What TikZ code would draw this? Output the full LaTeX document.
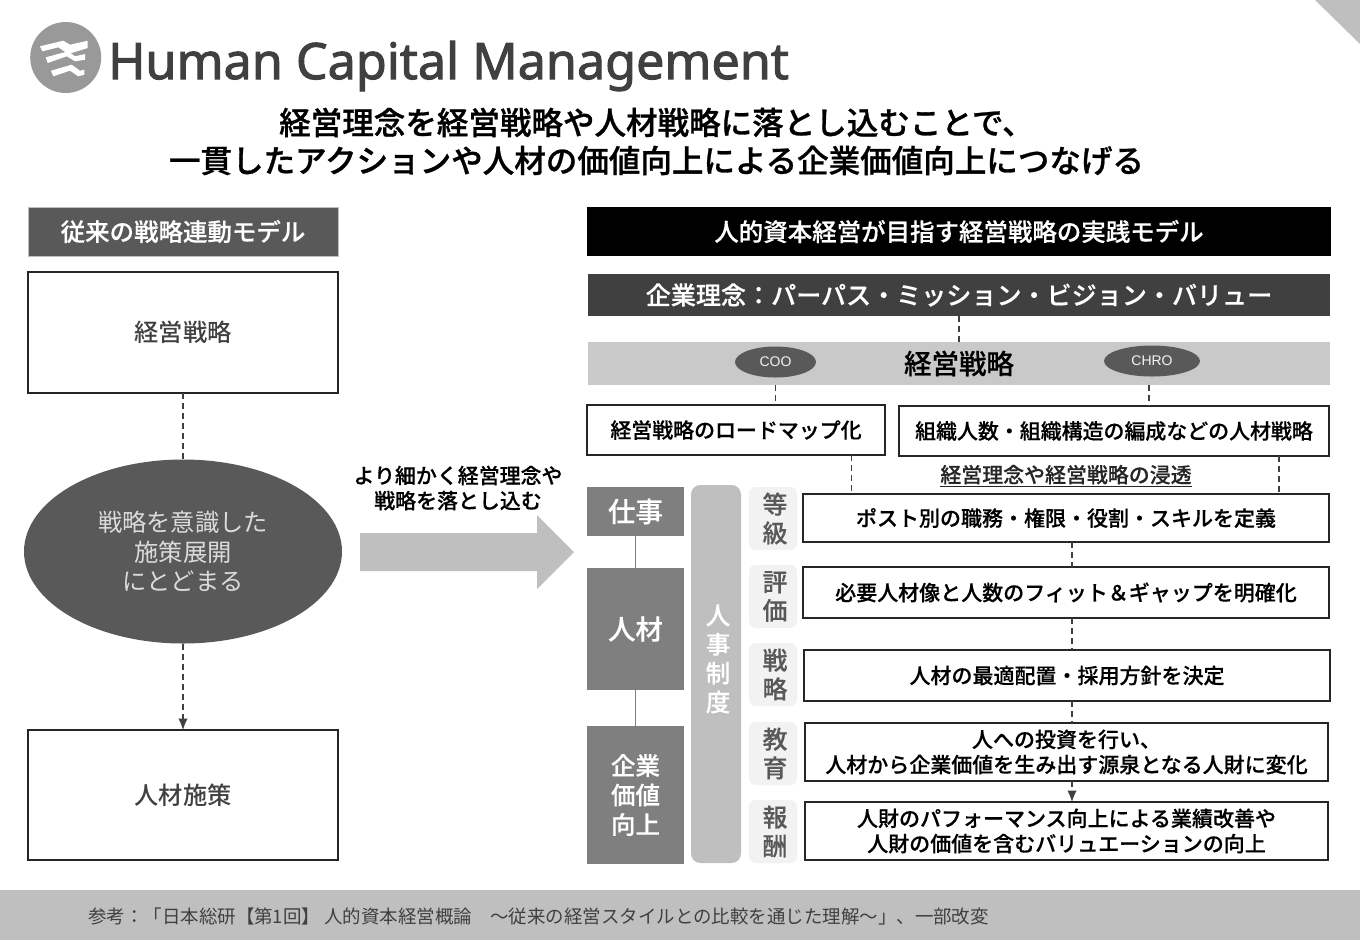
\documentclass[tikz,border=0pt]{standalone}
\usepackage{fontspec}
\setmainfont{Noto Sans CJK JP}
\newfontfamily\plainfont{Noto Sans CJK JP Medium}
\newfontfamily\medfont[FakeBold=0.35]{Noto Sans CJK JP Medium}
\newfontfamily\strongfont[FakeBold=0.9]{Noto Sans CJK JP Medium}
\newfontfamily\latinfont[FakeBold=2]{Noto Sans}
\newfontfamily\arialfont{Liberation Sans}
\usetikzlibrary{arrows.meta,shapes.geometric}
\definecolor{gA}{HTML}{404040}
\definecolor{gB}{HTML}{595959}
\definecolor{gC}{HTML}{7F7F7F}
\definecolor{gD}{HTML}{BFBFBF}
\definecolor{gE}{HTML}{C9C9C9}
\definecolor{gF}{HTML}{F2F2F2}
\newcommand{\tagpair}[2]{\kern3pt #1\\\kern3pt #2}
\tikzset{
  sz/.style 2 args={minimum width=#1*0.75pt,minimum height=#2*0.75pt,inner sep=0pt,outer sep=0pt},
  txt/.style={font=\fontsize{#1}{\dimexpr #1pt*6/5\relax}\selectfont\medfont,align=center},
  whitebox/.style={draw=black!85,line width=1.2pt,fill=white},
  sidebox/.style={fill=gC,text=white},
  tagbox/.style={sz={48}{63},fill=gF,rounded corners=5pt,text=gB,font=\fontsize{18.6}{21.5}\selectfont\medfont,align=center},
  dashline/.style={draw=gA,line width=1pt,dash pattern=on 4.5pt off 3pt},
  dashtip/.style={dashline,-{Latex[length=8.5pt,width=7pt]}},
}
\begin{document}
\begin{tikzpicture}[x=0.75pt,y=0.75pt,yscale=-1,xscale=1]
\useasboundingbox (0,0) rectangle (1360,940);

% Corner and footer
\fill[gD] (1315,0) -- (1360,0) -- (1360,44) -- cycle;
\node[sz={1360}{50},fill=gD] (footer) at (680,915) {};
\node[font=\fontsize{13.85}{16}\selectfont,text=gA,anchor=west,inner sep=0pt] (source) at (88,916.5) {参考：「日本総研【第1回】 人的資本経営概論　～従来の経営スタイルとの比較を通じた理解～」、一部改変};

% Logo
\fill[black!40] (65.7,57.5) circle (35.5);
\fill[white] (40,46.3) -- (63.3,40.7) -- (70,44.7) -- (87.7,40.7) -- (87.7,48) -- (68.3,54) -- (58.3,47.3) -- (42.3,51.3) -- cycle;
\fill[white] (45.7,57.3) -- (68.3,51.3) -- (75,56.3) -- (85,54) -- (85,59.7) -- (75,61.3) -- (66.7,56.3) -- (47.7,63) -- cycle;
\fill[white] (51,70.7) -- (71.7,64.7) -- (80,70.7) -- (84.3,69.7) -- (84.3,74.7) -- (78.3,76.3) -- (70,70.7) -- (53.3,76.3) -- cycle;

% Title
\node[font=\fontsize{37.7}{44}\selectfont\latinfont,text=gA,anchor=west,inner sep=0pt] (title) at (108,66) {Human Capital Management};
\node[font=\fontsize{23.65}{28.5}\selectfont\strongfont,text=black,align=center] (lead) at (656.5,141.5) {経営理念を経営戦略や人材戦略に落とし込むことで、\\一貫したアクションや人材の価値向上による企業価値向上につなげる};

% Left column
\node[sz={310}{49},fill=gB,draw=gD,text=white,txt=18.35] (oldhead) at (183,231.5) {従来の戦略連動モデル};
\node[sz={310}{121},draw=black!85,line width=1pt,font=\fontsize{18.2}{22}\selectfont\plainfont,text=gA] (oldstrategy) at (183,332.5) {経営戦略};
\node[ellipse,sz={318}{184},fill=gB,text=gF!85!gB,font=\fontsize{18.2}{22}\selectfont,align=center] (oldmeasure) at (183,551.5) {戦略を意識した\\施策展開\\にとどまる};
\node[sz={310}{130},draw=black!85,line width=1pt,font=\fontsize{18.2}{22}\selectfont\plainfont,text=gA] (oldpeople) at (183,795) {人材施策};
\draw[dashline] (oldstrategy) -- (oldmeasure);
\draw[dashtip] (oldmeasure) -- (oldpeople);

% Middle arrow
\node[txt=15.7,text=black] (arrowtext) at (458,488) {より細かく経営理念や\\戦略を落とし込む};
\fill[gD] (360,533) -- (537,533) -- (537,515) -- (574,552) -- (537,589) -- (537,571) -- (360,571) -- cycle;

% Right column, upper part
\node[sz={744}{49},fill=black,text=white,txt=18.35] (newhead) at (959,231.5) {人的資本経営が目指す経営戦略の実践モデル};
\node[sz={742}{42},fill=gA,text=white,txt=18.8] (purpose) at (959,295) {企業理念：パーパス・ミッション・ビジョン・バリュー};
\node[sz={742}{43},fill=gE,text=black,txt=20.6] (strategy) at (959,363.5) {経営戦略};
\node[ellipse,sz={81}{31},fill=gB,text=gF,font=\fontsize{10.5}{12}\selectfont\arialfont] (coo) at (775.5,362) {COO};
\node[ellipse,sz={96}{31},fill=gB,text=gF,font=\fontsize{10.5}{12}\selectfont\arialfont] (chro) at (1152,361) {CHRO};
\node[sz={298}{50},whitebox,txt=15.7,text=black] (roadmap) at (736,430) {経営戦略のロードマップ化};
\node[sz={430}{50},whitebox,txt=15.7,text=black] (talent) at (1114,431) {組織人数・組織構造の編成などの人材戦略};
\node[txt=15.7,text=black!85,inner sep=0pt] (spread) at (1066,476) {\underline{経営理念や経営戦略の浸透}};

% Left bars of the right column
\node[sz={97}{49},sidebox,txt=20.6] (job) at (635.5,511.5) {仕事};
\node[sz={97}{122},sidebox,txt=20.6] (people) at (635.5,629) {人材};
\node[sz={97}{138},sidebox,txt=18.4] (value) at (635.5,795) {企業\\価値\\向上};
\node[sz={50}{378},fill=gD,rounded corners=7pt] (system) at (716,674) {};
\node[text=white,font=\fontsize{18.4}{21.7}\selectfont\medfont,align=center,inner sep=0pt] (systemtext) at (718,659) {人\\事\\制\\度};
\draw[gC,line width=1pt] (job) -- (people);
\draw[gC,line width=1pt] (people) -- (value);

% Tags and boxes
\node[tagbox] (tagrank) at (773,518.5) {\tagpair{等}{級}};
\node[tagbox] (tagreview) at (773,596.5) {\tagpair{評}{価}};
\node[tagbox] (tagplan) at (773,674.5) {\tagpair{戦}{略}};
\node[tagbox] (tagedu) at (773,753.5) {\tagpair{教}{育}};
\node[tagbox] (tagpay) at (773,831.5) {\tagpair{報}{酬}};
\node[sz={526}{48},whitebox,txt=15.75,text=black] (post) at (1066,518) {ポスト別の職務・権限・役割・スキルを定義};
\node[sz={526}{51},whitebox,txt=15.75,text=black] (need) at (1066,592.5) {必要人材像と人数のフィット＆ギャップを明確化};
\node[sz={526}{51},whitebox,txt=15.75,text=black] (place) at (1067,675.5) {人材の最適配置・採用方針を決定};
\node[sz={523}{58},whitebox,txt=15.75,text=black] (invest) at (1066.5,752) {人への投資を行い、\\人材から企業価値を生み出す源泉となる人財に変化};
\node[sz={523}{58},whitebox,txt=15.75,text=black] (reward) at (1066.5,831) {人財のパフォーマンス向上による業績改善や\\人財の価値を含むバリュエーションの向上};

% Dashed links
\coordinate (midx) at (1072,0);
\coordinate (roadx) at (851.5,0);
\coordinate (talentx) at (1279,0);
\coordinate (chrox) at (1149,0);
\draw[dashline] (purpose) -- (strategy);
\draw[dashline] (strategy.south -| coo) -- (roadmap.north -| coo);
\draw[dashline] (strategy.south -| chrox) -- (talent.north -| chrox);
\draw[dashline] (roadmap.south -| roadx) -- (post.north -| roadx);
\draw[dashline] (talent.south -| talentx) -- (post.north -| talentx);
\draw[dashline] (post.south -| midx) -- (need.north -| midx);
\draw[dashline] (need.south -| midx) -- (place.north -| midx);
\draw[dashline] (place.south -| midx) -- (invest.north -| midx);
\draw[dashtip] (invest.south -| midx) -- (reward.north -| midx);

\end{tikzpicture}
\end{document}
